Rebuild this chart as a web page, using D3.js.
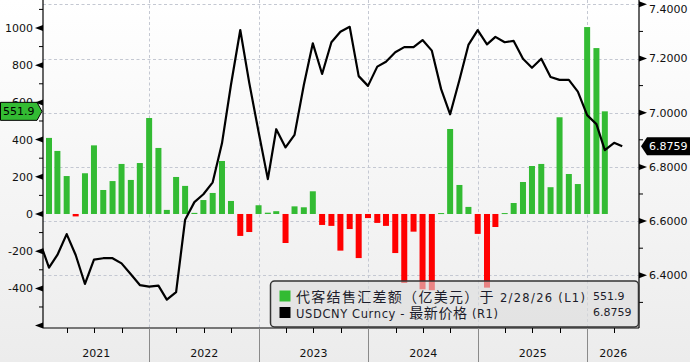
<!DOCTYPE html>
<html>
<head>
<meta charset="utf-8">
<script src="https://cdn.jsdelivr.net/npm/d3@7"></script>
<style>
  body { margin: 0; background: #fff; }
  svg { display: block; font-family: "DejaVu Sans", "Noto Sans CJK SC", sans-serif; }
</style>
</head>
<body>
<svg id="chart"></svg>
<script>
// 代客结售汇差额 (亿美元), one bar per month-end
const barMonths = [
    "2021-01", "2021-02", "2021-03", "2021-04", "2021-05", "2021-06", "2021-07", "2021-08", "2021-09", "2021-10", "2021-11", "2021-12",
    "2022-01", "2022-02", "2022-03", "2022-04", "2022-05", "2022-06", "2022-07", "2022-08", "2022-09", "2022-10", "2022-11", "2022-12",
    "2023-01", "2023-02", "2023-03", "2023-04", "2023-05", "2023-06", "2023-07", "2023-08", "2023-09", "2023-10", "2023-11", "2023-12",
    "2024-01", "2024-02", "2024-03", "2024-04", "2024-05", "2024-06", "2024-07", "2024-08", "2024-09", "2024-10", "2024-11", "2024-12",
    "2025-01", "2025-02", "2025-03", "2025-04", "2025-05", "2025-06", "2025-07", "2025-08", "2025-09", "2025-10", "2025-11", "2025-12",
    "2026-01", "2026-02"
];
const barValues = [
    409, 339, 204, -13, 219, 369, 129, 177, 269, 183, 274, 516,
    355, 22, 199, 151, 6, 75, 113, 285, 70, -118, -97, 47,
    7, 15, -156, 41, 36, 122, -59, -64, -197, -81, -237, -22,
    -48, -64, -210, -371, -95, -405, -410, 5, 457, 156, 38, -107,
    -396, -70, 5, 59, 172, 258, 269, 144, 520, 215, 161, 1005,
    892, 551.9
];

// USDCNY month-end closes, last one is the latest print
const lineDates = ["2020-12", ...barMonths, "2026-03", "2026-04-27"];
const usdcny = [
    6.525,
    6.428, 6.475, 6.552, 6.475, 6.368, 6.458, 6.463, 6.463, 6.444, 6.404, 6.364, 6.358,
    6.362, 6.310, 6.338, 6.605, 6.670, 6.699, 6.743, 6.887, 7.103, 7.305, 7.110, 6.930,
    6.755, 6.939, 6.872, 6.918, 7.102, 7.256, 7.143, 7.260, 7.299, 7.317, 7.135, 7.099,
    7.170, 7.188, 7.223, 7.242, 7.242, 7.268, 7.229, 7.087, 6.994, 7.121, 7.250, 7.305,
    7.252, 7.280, 7.260, 7.265, 7.199, 7.166, 7.199, 7.132, 7.121, 7.121, 7.078, 6.991,
    6.958, 6.862, 6.889, 6.8759
];

const leftTicks = [-600, -400, -200, 0, 200, 400, 600, 800, 1000];
const leftMinor = [-500, -300, -100, 100, 300, 500, 700, 900, 1100];
const rightTicks = [6.4, 6.6, 6.8, 7.0, 7.2, 7.4];
const rightMinor = [6.3, 6.5, 6.7, 6.9, 7.1, 7.3];
const years = [2021, 2022, 2023, 2024, 2025, 2026];

const legendBarLabel = "代客结售汇差额（亿美元）于 2/28/26 (L1)";
const legendLineLabel = "USDCNY Curncy - 最新价格 (R1)";
const lastBar = "551.9";
const lastLine = "6.8759";

const width = 690, height = 362;
const plot = { left: 43, right: 639, top: 0, bottom: 328 };

const svg = d3.select("#chart")
    .attr("width", width)
    .attr("height", height);

// month string -> month end date, full date string -> that day
function toDate(s) {
    const p = s.split("-").map(Number);
    if (p.length === 2) return new Date(Date.UTC(p[0], p[1], 0));
    return new Date(Date.UTC(p[0], p[1] - 1, p[2]));
}

// Scales
const x = d3.scaleUtc()
    .domain([new Date(Date.UTC(2021, 0, 11)), new Date(Date.UTC(2026, 5, 22))])
    .range([plot.left, plot.right]);

const yL = d3.scaleLinear()
    .domain([-613, 1150.5])
    .range([plot.bottom, plot.top]);

const yR = d3.scaleLinear()
    .domain([6.2055, 7.4159])
    .range([plot.bottom, plot.top]);

// background fade
const defs = svg.append("defs");
const grad = defs.append("linearGradient")
    .attr("id", "bg")
    .attr("x1", 0).attr("y1", 0).attr("x2", 0).attr("y2", 1);
grad.append("stop").attr("offset", "0%").attr("stop-color", "#ffffff");
grad.append("stop").attr("offset", "100%").attr("stop-color", "#ececec");

defs.append("clipPath").attr("id", "plotClip")
    .append("rect")
    .attr("x", plot.left)
    .attr("y", plot.top)
    .attr("width", plot.right - plot.left)
    .attr("height", plot.bottom - plot.top);

svg.append("rect")
    .attr("width", width)
    .attr("height", height)
    .attr("fill", "url(#bg)");

// grid: horizontal from the right axis, vertical at year starts
const grid = svg.append("g")
    .attr("stroke", "#c4c8d2")
    .attr("stroke-width", 1)
    .attr("stroke-dasharray", "3,2.5");

grid.selectAll(".hgrid")
    .data(rightTicks)
    .enter()
    .append("line")
    .attr("x1", plot.left)
    .attr("x2", plot.right)
    .attr("y1", d => Math.round(yR(d)) + 0.5)
    .attr("y2", d => Math.round(yR(d)) + 0.5);

grid.selectAll(".vgrid")
    .data(years.slice(1))
    .enter()
    .append("line")
    .attr("x1", d => Math.round(x(new Date(Date.UTC(d, 0, 1)))) + 0.5)
    .attr("x2", d => Math.round(x(new Date(Date.UTC(d, 0, 1)))) + 0.5)
    .attr("y1", plot.top)
    .attr("y2", plot.bottom);

// Bars
const g = svg.append("g").attr("clip-path", "url(#plotClip)");

g.selectAll(".bar")
    .data(barValues)
    .enter()
    .append("rect")
    .attr("class", "bar")
    .attr("x", (d, i) => x(toDate(barMonths[i])) - 3)
    .attr("y", d => yL(Math.max(0, d)))
    .attr("width", 6)
    .attr("height", d => Math.max(1, Math.abs(yL(d) - yL(0))))
    .attr("fill", d => d >= 0 ? "#33bb33" : "#ff0000");

// USDCNY line
const line = d3.line()
    .x((d, i) => x(toDate(lineDates[i])))
    .y(d => yR(d));

g.append("path")
    .datum(usdcny)
    .attr("d", line)
    .attr("fill", "none")
    .attr("stroke", "#000")
    .attr("stroke-width", 2.2)
    .attr("stroke-linejoin", "round");

// Axes lines
const axes = svg.append("g").attr("stroke", "#000").attr("stroke-width", 1.2);
axes.append("line").attr("x1", plot.left).attr("x2", plot.left).attr("y1", 0).attr("y2", plot.bottom);
axes.append("line").attr("x1", plot.right).attr("x2", plot.right).attr("y1", 0).attr("y2", plot.bottom);
axes.append("line").attr("x1", plot.left).attr("x2", plot.right).attr("y1", plot.bottom).attr("y2", plot.bottom);

// Left axis ticks - arrows on the majors, short dashes on the minors
svg.selectAll(".lmajor")
    .data(leftTicks)
    .enter()
    .append("path")
    .attr("d", d => `M${plot.left},${yL(d) - 3}L${plot.left - 8},${yL(d)}L${plot.left},${yL(d) + 3}Z`)
    .attr("fill", "#000");

svg.selectAll(".lminor")
    .data(leftMinor)
    .enter()
    .append("line")
    .attr("x1", plot.left - 4)
    .attr("x2", plot.left)
    .attr("y1", d => yL(d))
    .attr("y2", d => yL(d))
    .attr("stroke", "#000");

svg.selectAll(".llabel")
    .data(leftTicks.filter(d => d > -600))
    .enter()
    .append("text")
    .attr("x", 33)
    .attr("y", d => yL(d))
    .attr("dy", "0.36em")
    .attr("text-anchor", "end")
    .style("font-size", "11px")
    .attr("fill", "#111")
    .text(d => d);

// Right axis
svg.selectAll(".rmajor")
    .data(rightTicks)
    .enter()
    .append("path")
    .attr("d", d => `M${plot.right},${yR(d) - 3}L${plot.right + 8},${yR(d)}L${plot.right},${yR(d) + 3}Z`)
    .attr("fill", "#000");

svg.selectAll(".rminor")
    .data(rightMinor)
    .enter()
    .append("line")
    .attr("x1", plot.right)
    .attr("x2", plot.right + 4)
    .attr("y1", d => yR(d))
    .attr("y2", d => yR(d))
    .attr("stroke", "#000");

svg.selectAll(".rlabel")
    .data(rightTicks)
    .enter()
    .append("text")
    .attr("x", 649)
    .attr("y", d => Math.max(yR(d), 9.5)) // top one gets nudged down so it isn't cut
    .attr("dy", "0.36em")
    .style("font-size", "11px")
    .attr("fill", "#111")
    .text(d => d3.format(".4f")(d));

// X axis: quarter ticks, long grey year separators, year labels in the middle
const quarters = d3.utcMonth.every(3).range(x.domain()[0], x.domain()[1])
    .filter(d => d.getUTCMonth() !== 0);

svg.selectAll(".qtick")
    .data(quarters)
    .enter()
    .append("line")
    .attr("x1", d => Math.round(x(d)) + 0.5)
    .attr("x2", d => Math.round(x(d)) + 0.5)
    .attr("y1", plot.bottom)
    .attr("y2", plot.bottom + 5)
    .attr("stroke", "#000");

svg.selectAll(".ytick")
    .data(years.slice(1))
    .enter()
    .append("line")
    .attr("x1", d => Math.round(x(new Date(Date.UTC(d, 0, 1)))) + 0.5)
    .attr("x2", d => Math.round(x(new Date(Date.UTC(d, 0, 1)))) + 0.5)
    .attr("y1", plot.bottom)
    .attr("y2", height)
    .attr("stroke", "#8a8a8a");

svg.selectAll(".ylabel")
    .data(years)
    .enter()
    .append("text")
    .attr("x", d => {
        const a = Math.max(x(new Date(Date.UTC(d, 0, 1))), plot.left);
        const b = Math.min(x(new Date(Date.UTC(d + 1, 0, 1))), plot.right);
        return (a + b) / 2;
    })
    .attr("y", 357)
    .attr("text-anchor", "middle")
    .style("font-size", "11px")
    .attr("fill", "#111")
    .text(d => d);

// Legend box (see-through so the deep red bars show a bit)
const legend = svg.append("g");
legend.append("rect")
    .attr("x", 270.5)
    .attr("y", 281)
    .attr("width", 368)
    .attr("height", 46)
    .attr("rx", 4)
    .attr("fill", "rgba(220,220,220,0.6)")
    .attr("stroke", "#333")
    .attr("stroke-width", 1.5);

const legendRows = [
    { label: legendBarLabel, value: lastBar, color: "#33bb33", y: 296, len: 289 },
    { label: legendLineLabel, value: lastLine, color: "#000", y: 312.5, len: 202 }
];

legendRows.forEach(r => {
    legend.append("rect")
        .attr("x", 279.5)
        .attr("y", r.y - 5.5)
        .attr("width", 11)
        .attr("height", 11)
        .attr("fill", r.color);

    const t = legend.append("text")
        .attr("x", 296)
        .attr("y", r.y)
        .attr("dy", "0.36em")
        .attr("textLength", r.len)
        .attr("lengthAdjust", "spacing")
        .attr("fill", "#1c1c2a");

    // chinese runs a bit bigger than the latin bits
    r.label.split(/([\u3000-\u9fff\uff00-\uffef]+)/).filter(s => s).forEach(s => {
        t.append("tspan")
            .style("font-size", /[\u3000-\u9fff\uff00-\uffef]/.test(s) ? "14px" : "11.5px")
            .text(s);
    });

    legend.append("text")
        .attr("x", 593)
        .attr("y", r.y)
        .attr("dy", "0.36em")
        .style("font-size", "11px")
        .attr("fill", "#1c1c2a")
        .text(r.value);
});

// last value badges on both axes
const yb = yL(barValues[barValues.length - 1]);
svg.append("path")
    .attr("d", `M0.5,${yb - 9}L37,${yb - 9}L42,${yb}L37,${yb + 9}L0.5,${yb + 9}Z`)
    .attr("fill", "#33bb33")
    .attr("stroke", "#000")
    .attr("stroke-width", 1);
svg.append("text")
    .attr("x", 3)
    .attr("y", yb)
    .attr("dy", "0.36em")
    .style("font-size", "11px")
    .attr("fill", "#000")
    .text(lastBar);

const yl = yR(usdcny[usdcny.length - 1]);
svg.append("path")
    .attr("d", `M641,${yl}L647,${yl - 9}L690,${yl - 9}L690,${yl + 9}L647,${yl + 9}Z`)
    .attr("fill", "#000");
svg.append("text")
    .attr("x", 649)
    .attr("y", yl)
    .attr("dy", "0.36em")
    .style("font-size", "11px")
    .attr("fill", "#fff")
    .text(lastLine);
</script>
</body>
</html>
